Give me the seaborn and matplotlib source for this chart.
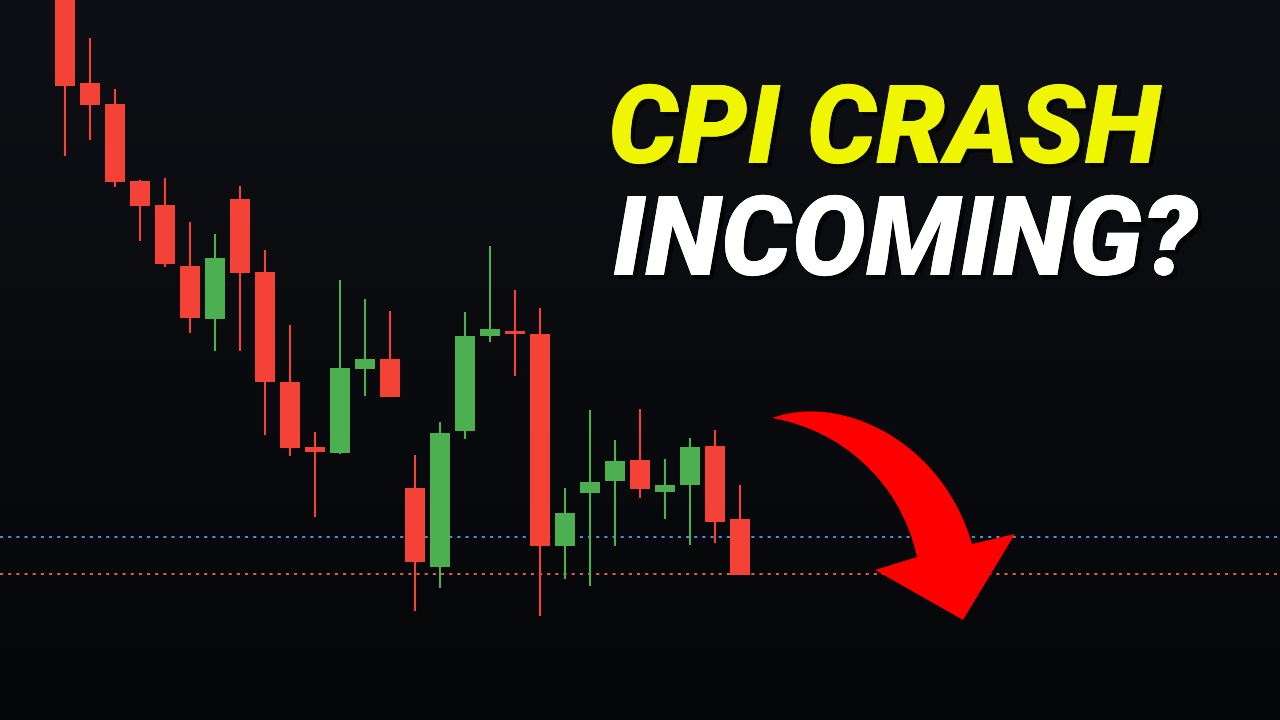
import numpy as np
import pandas as pd
import matplotlib
matplotlib.use("Agg")
import matplotlib.pyplot as plt
import matplotlib.patheffects as pe
from matplotlib.patches import PathPatch
from matplotlib.path import Path
import seaborn as sns

# candle data (arbitrary price units)
opens = [7.30, 6.37, 6.16, 5.39, 5.15, 4.54, 4.01, 5.21, 4.48, 3.38, 2.73, 2.67, 3.51, 3.61,
         2.32, 1.53, 2.89, 3.84, 3.89, 3.86, 1.74, 2.27, 2.39, 2.60, 2.28, 2.35, 2.74, 2.01]
highs = [7.45, 6.82, 6.31, 5.40, 5.42, 4.98, 4.86, 5.34, 4.70, 3.95, 2.88, 4.40, 4.21, 4.09,
         2.65, 2.98, 4.08, 4.74, 4.30, 4.12, 2.32, 3.10, 2.80, 3.11, 2.61, 2.82, 2.90, 2.35]
lows = [5.64, 5.80, 5.33, 4.79, 4.53, 3.87, 3.69, 3.69, 2.85, 2.64, 2.03, 2.66, 3.24, 3.23,
        1.09, 1.32, 2.81, 3.78, 3.44, 1.04, 1.41, 1.34, 1.74, 2.22, 2.01, 1.75, 1.77, 1.45]
closes = [6.34, 6.15, 5.38, 5.14, 4.56, 4.02, 4.62, 4.47, 3.38, 2.72, 2.68, 3.52, 3.61, 3.23,
          1.58, 2.87, 3.84, 3.91, 3.86, 1.74, 2.07, 2.38, 2.59, 2.31, 2.35, 2.73, 1.98, 1.45]
level_blue = 1.83
level_red = 1.46
title_1 = "CPI CRASH"
title_2 = "INCOMING?"

df = pd.DataFrame({"open": opens, "high": highs, "low": lows, "close": closes})
df["idx"] = np.arange(len(df))
df["up"] = df["close"] >= df["open"]

UP = "#4caf50"
DOWN = "#f44336"
BG = "#0b0d11"

sns.set_theme(style="dark", rc={"axes.facecolor": BG, "figure.facecolor": BG})

fig = plt.figure(figsize=(12.8, 7.2), dpi=100)
ax = fig.add_axes([0, 0, 1, 1])

# subtle vertical shading like the screenshot
grad = np.linspace(1, 0, 256).reshape(-1, 1)
ax.imshow(grad, extent=[-2.6, 48.6, 0, 7.2], aspect="auto", cmap=matplotlib.colors.LinearSegmentedColormap.from_list(
    "bg", ["#050608", "#0e1015"]), zorder=0)

cols = np.where(df["up"], UP, DOWN)
ax.vlines(df["idx"], df["low"], df["high"], colors=cols, lw=1.5, zorder=2)
body_lo = np.minimum(df["open"], df["close"])
body_h = np.maximum(np.abs(df["close"] - df["open"]), 0.035)
ax.bar(df["idx"], body_h, bottom=body_lo, width=0.8, color=cols, linewidth=0, zorder=3)

ax.axhline(level_blue, color="#4d90e0", lw=1.4, ls=(0, (1.6, 2.6)), zorder=1)
ax.axhline(level_red, color="#e0604f", lw=1.4, ls=(0, (1.6, 2.6)), zorder=1)

ax.set_xlim(-2.6, 48.6)
ax.set_ylim(0, 7.2)
ax.set_axis_off()

# overlay in pixel coordinates for the headline and arrow
ov = fig.add_axes([0, 0, 1, 1])
ov.set_xlim(0, 1280)
ov.set_ylim(720, 0)
ov.set_axis_off()
ov.patch.set_alpha(0)

shadow = [pe.withSimplePatchShadow(offset=(3, -3), shadow_rgbFace="black", alpha=0.6), pe.Normal()]
ov.text(884, 163, title_1, color="#f0f500", fontsize=79, fontweight="black", style="italic",
        family=["Roboto", "DejaVu Sans"], ha="center", va="baseline", path_effects=shadow)
ov.text(905, 275, title_2, color="white", fontsize=80, fontweight="black", style="italic",
        family=["Roboto", "DejaVu Sans"], ha="center", va="baseline", path_effects=shadow)

# curved arrow outline
verts = [(772, 418), (840, 393), (942, 440), (972, 544),
         (1015, 534), (963, 620), (875, 570), (917, 557),
         (900, 480), (840, 430), (772, 418), (772, 418)]
codes = [Path.MOVETO, Path.CURVE4, Path.CURVE4, Path.CURVE4,
         Path.LINETO, Path.LINETO, Path.LINETO, Path.LINETO,
         Path.CURVE4, Path.CURVE4, Path.CURVE4, Path.CLOSEPOLY]
ov.add_patch(PathPatch(Path(verts, codes), facecolor="#ff0000", lw=0, zorder=5))

fig.savefig("out.png", dpi=100, facecolor=BG)
